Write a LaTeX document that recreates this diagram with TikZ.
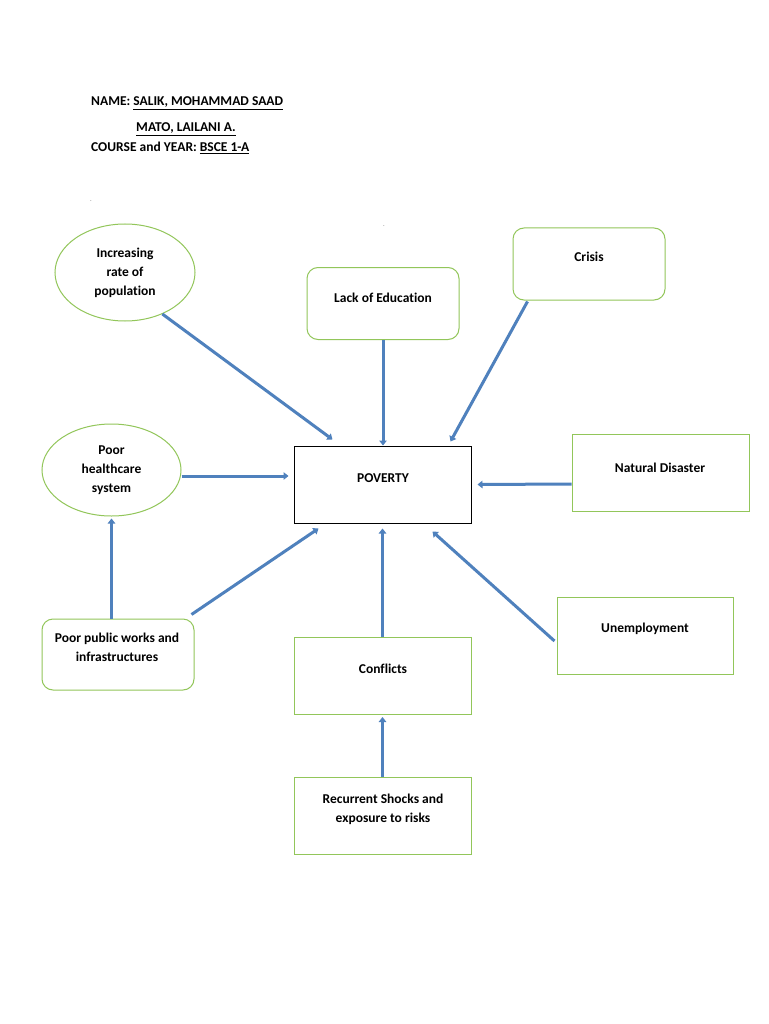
\documentclass[tikz,border=0pt]{standalone}
\usepackage{fontspec}
\setmainfont{Carlito}[Ligatures=NoCommon]
\usepackage{tikz}
\usetikzlibrary{arrows.meta,shapes.geometric}
\usepackage{xcolor}
\definecolor{causegreen}{RGB}{146,198,90}
\definecolor{arrowblue}{RGB}{79,129,189}

\begin{document}
\begin{tikzpicture}[x=1pt,y={(0,-1pt)},
    causebox/.style={draw=causegreen,line width=1pt,minimum width=177pt,minimum height=77pt,inner sep=0pt},
    causeround/.style={causebox,rounded corners=11pt,minimum width=152pt,minimum height=72pt},
    causeoval/.style={ellipse,draw=causegreen,line width=1pt,inner sep=0pt,align=center,font=\fontsize{13.5}{19}\selectfont\bfseries},
    txt/.style={align=center,font=\fontsize{13.5}{19}\selectfont\bfseries},
    causearrow/.style={arrowblue,line width=3pt,-{Triangle[length=5pt,width=7.5pt]}}]
        \useasboundingbox (0,0) rectangle (768,1024);
        \fill[white] (0,0) rectangle (768,1024);
        % names
        \node[txt,inner sep=0pt,anchor=base west] (name) at (91,106) {NAME: \underline{SALIK, MOHAMMAD SAAD}};
        \node[txt,inner sep=0pt,anchor=base west] (name2) at (136,132) {\underline{MATO, LAILANI A.}};
        \node[txt,inner sep=0pt,anchor=base west] (course) at (91,152) {COURSE and YEAR: \underline{BSCE 1-A}};
        \node[font=\tiny] (dot1) at (91,201) {.};
        \node[font=\tiny] (dot2) at (384,226) {.};
        % causes
        \node[causeoval,minimum width=140pt,minimum height=97pt] (inc) at (125,272.5) {Increasing\\rate of\\population};
        \node[causeround] (edu) at (383,303.5) {};
        \node[txt] (edutxt) at (383,298) {Lack of Education};
        \node[causeround] (cri) at (589,264) {};
        \node[txt] (critxt) at (589,257) {Crisis};
        \node[causeoval,minimum width=139pt,minimum height=92pt] (hlt) at (111.5,470) {Poor\\healthcare\\system};
        \node[causebox,draw=black] (pov) at (382.5,484.5) {};
        \node[txt] (povtxt) at (383,478) {POVERTY};
        \node[causebox] (nat) at (660.5,473) {};
        \node[txt] (nattxt) at (660,468) {Natural Disaster};
        \node[causeround,minimum height=71pt] (pw) at (118,654.5) {};
        \node[txt] (pwtxt) at (117,647.5) {Poor public works and\\infrastructures};
        \node[causebox] (con) at (382.5,676) {};
        \node[txt] (contxt) at (383,669) {Conflicts};
        \node[causebox,minimum width=176pt] (une) at (645,635.5) {};
        \node[txt] (unetxt) at (645,629) {Unemployment};
        \node[causebox] (rec) at (382.5,815.5) {};
        \node[txt] (rectxt) at (383,809) {Recurrent Shocks and\\exposure to risks};
        % arrows
        \draw[causearrow] (inc.-48) -- ([shift={(39,-6)}]pov.north west);
        \draw[causearrow] (edu.south) -- (edu.south |- pov.north);
        \draw[causearrow] ([shift={(15,1)}]cri.south west) -- ([shift={(-21,-4)}]pov.north east);
        \draw[causearrow] ([shift={(0,6)}]hlt.east) -- ([shift={(-5,-8.5)}]pov.west);
        \draw[causearrow] ([shift={(0,11)}]nat.west) -- ([shift={(6,0)}]pov.east);
        \draw[causearrow] ([shift={(-3,-4)}]pw.north east) -- ([shift={(25,5)}]pov.south west);
        \draw[causearrow] (hlt.south |- pw.north) -- ([shift={(0,2)}]hlt.south);
        \draw[causearrow] (con.north) -- ([shift={(0,5)}]pov.south);
        \draw[causearrow] ([shift={(-2,5.5)}]une.west) -- ([shift={(-39,8)}]pov.south east);
        \draw[causearrow] (rec.north) -- ([shift={(0,2)}]con.south);
      \end{tikzpicture}
\end{document}
